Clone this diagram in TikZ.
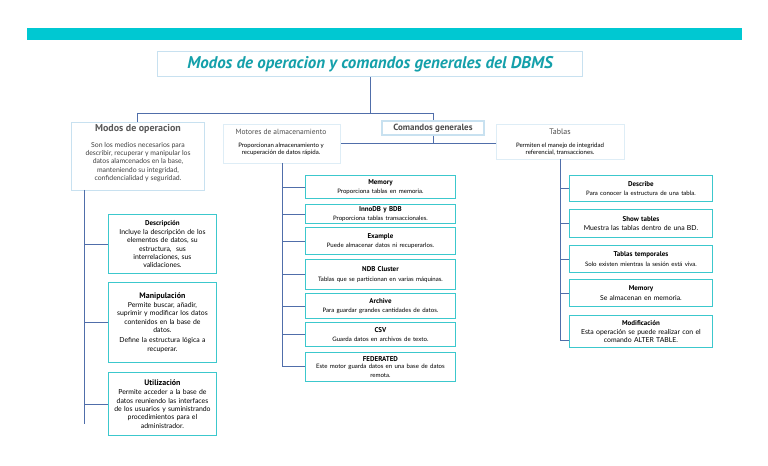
\documentclass[tikz,border=0pt]{standalone}
\usepackage{fontspec}
\setmainfont{Lato}
\newfontfamily\headf{PT Sans}
\definecolor{teal1}{RGB}{0,200,210}
\definecolor{tealb}{RGB}{60,200,205}
\definecolor{ttl}{RGB}{20,160,170}
\definecolor{lnc}{RGB}{80,110,170}
\definecolor{shd}{RGB}{200,225,240}
\begin{document}
\begin{tikzpicture}[x=1bp,y=-1bp,
  box/.style={draw=tealb,line width=0.9bp,fill=white,inner sep=1.5bp,align=center,font=\fontsize{6.9}{8.4}\selectfont},
  soft/.style={draw=shd,line width=1.2bp,fill=white,inner sep=1.5bp,align=center},
  ln/.style={draw=lnc,line width=0.8bp}]
\useasboundingbox (0,0) rectangle (768,466);
\fill[white] (0,0) rectangle (768,466);
\fill[teal1] (27,28) rectangle (742,40);
% title
\node[draw=shd,line width=1bp,fill=white,minimum width=424bp,minimum height=25bp,inner sep=0pt,text=ttl,font=\headf\bfseries\itshape\fontsize{17}{20}\selectfont] (title) at (370,64.5) {Modos de operacion y comandos generales del DBMS};
% level 1
\node[soft,minimum width=133bp,minimum height=68bp,anchor=north west] (modos) at (71,122) {};
\node[text=black!65,font=\headf\bfseries\fontsize{10}{11}\selectfont] (modosh) at (138,129) {Modos de operacion};
\node[align=center,font=\fontsize{6.9}{8.4}\selectfont,text=black!75] (modost) at (138,162) {Son los medios necesarios para\\describir, recuperar y manipular los\\datos alamcenados en la base,\\manteniendo su integridad,\\confidencialidad y seguridad.};
\node[soft,draw=shd!60,minimum width=117bp,minimum height=39bp,anchor=north west] (mot) at (223,124) {};
\node[font=\headf\fontsize{7.5}{8}\selectfont,text=black!70] (moth) at (281,132) {Motores de almacenamiento};
\node[align=center,font=\fontsize{6.1}{7.4}\selectfont] (mott) at (281,149) {Proporcionan almacenamiento y\\recuperación de datos rápida.};
\node[draw=shd,line width=1.2bp,fill=white,minimum width=102bp,minimum height=14bp,inner sep=0pt,font=\headf\bfseries\fontsize{9}{10}\selectfont,text=black!70] (com) at (433,128) {Comandos generales};
\node[soft,draw=shd!60,minimum width=128bp,minimum height=35bp,anchor=north west] (tab) at (496,124) {};
\node[font=\headf\fontsize{8}{9}\selectfont,text=black!70] (tabh) at (560,132) {Tablas};
\node[align=center,font=\fontsize{6.1}{7.4}\selectfont] (tabt) at (560,149) {Permiten el manejo de integridad\\referencial, transacciones.};
% top connectors
\draw[ln] (title.south) -- (370,113) coordinate (j1);
\draw[ln] (137,113) -- (433,113);
\draw[ln] (137,113) -- (modos.north -| 137,0);
\draw[ln] (433,113) -- (com.north);
\draw[ln] (com.south) -- (433,143) coordinate (j2);
\draw[ln] (mot.east |- j2) -- (tab.west |- j2);
\newcommand\mybox[5]{\node[box,anchor=north west,minimum width=#3bp,text width=#3bp-4bp,minimum height=#4bp] (#1) at (#2) {#5};}
\newcommand\hh[1]{{\headf\bfseries\fontsize{7}{8}\selectfont #1}}
\newcommand\smt[1]{{\fontsize{6.1}{7.4}\selectfont #1}}
% modos children
\mybox{d1}{108,214}{108}{59}{\hh{Descripción}\\[1bp]Incluye la descripción de los\\elementos de datos, su\\estructura,\ \ sus\\interrelaciones, sus\\validaciones.}
\mybox{d2}{108,282}{108}{80}{{\headf\bfseries\fontsize{8}{9}\selectfont Manipulación}\\[1bp]Permite buscar, añadir,\\suprimir y modificar los datos\\contenidos en la base de\\datos.\\[2bp]Define la estructura lógica a\\recuperar.}
\mybox{d3}{108,372}{108}{63}{{\headf\bfseries\fontsize{8}{9}\selectfont Utilización}\\[1bp]Permite acceder a la base de\\datos reuniendo las interfaces\\de los usuarios y suministrando\\procedimientos para el\\administrador.}
\draw[ln] (84,190) -- (84,424);
\foreach \n in {d1,d2,d3} \draw[ln] (84,0 |- \n.west) -- (\n.west);
% motores children
\mybox{m1}{305,175}{150}{23}{\hh{Memory}\\\smt{Proporciona tablas en memoria.}}
\mybox{m2}{305,204}{150}{19}{\hh{InnoDB y BDB}\\\smt{Proporciona tablas transaccionales.}}
\mybox{m3}{305,227}{150}{27}{\hh{Example}\\[1bp]\smt{Puede almacenar datos ni recuperarlos.}}
\mybox{m4}{305,259}{150}{30}{\hh{NDB Cluster}\\[2bp]\smt{Tablas que se particionan en varias máquinas.}}
\mybox{m5}{305,293}{150}{25}{\hh{Archive}\\[1bp]\smt{Para guardar grandes cantidades de datos.}}
\mybox{m6}{305,322}{150}{24}{\hh{CSV}\\[1bp]\smt{Guarda datos en archivos de texto.}}
\mybox{m7}{305,352}{150}{29}{\hh{FEDERATED}\\\smt{Este motor guarda datos en una base de datos\\remota.}}
\draw[ln] (282,163) -- (282,366);
\foreach \n in {m1,m2,m3,m4,m5,m6} \draw[ln] (282,0 |- \n.west) -- (\n.west);
\draw[ln] (282,366) -- (305,366);
% tablas children
\mybox{t1}{569,175}{143}{26}{\hh{Describe}\\[1bp]\smt{Para conocer la estructura de una tabla.}}
\mybox{t2}{569,209}{143}{28}{\hh{Show tables}\\[1bp]Muestra las tablas dentro de una BD.}
\mybox{t3}{569,245}{143}{27}{\hh{Tablas temporales}\\[1bp]\smt{Solo existen mientras la sesión está viva.}}
\mybox{t4}{569,279}{143}{27}{\hh{Memory}\\[1bp]Se almacenan en memoria.}
\mybox{t5}{569,315}{143}{32}{\hh{Modificación}\\[1bp]Esta operación se puede realizar con el\\comando ALTER TABLE.}
\draw[ln] (560,159) -- (560,340);
\foreach \n in {t1,t2,t3,t4} \draw[ln] (560,0 |- \n.west) -- (\n.west);
\draw[ln] (560,340) -- (569,340);
\end{tikzpicture}
\end{document}
